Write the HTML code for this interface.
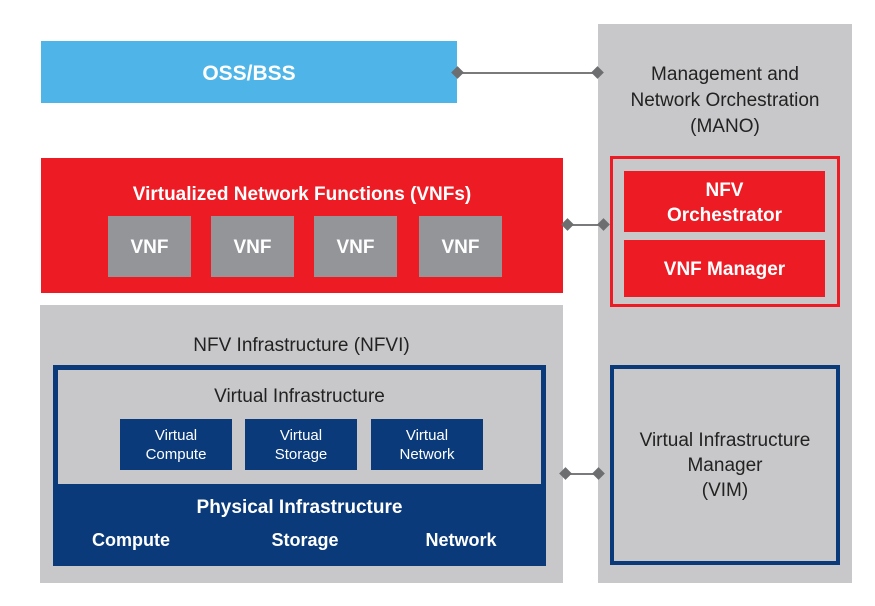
<!DOCTYPE html>
<html><head><meta charset="utf-8"><style>
body{margin:0;width:875px;height:606px;background:#fff;position:relative;overflow:hidden;font-family:"Liberation Sans",Arial,sans-serif}
div{position:absolute;box-sizing:border-box}
.c{display:flex;align-items:center;justify-content:center;text-align:center}
.w{color:#fff;font-weight:bold}
.line{height:2px;background:#7a7a7c}
.d{width:9px;height:9px;background:#6d6e70;transform:rotate(45deg)}
.vnf{background:#939598;top:216px;height:61px;width:83px;font-size:19px;padding-top:3px}
.vb{background:#0a3a7a;top:419px;height:51px;width:112px;color:#fff;font-size:15px;line-height:19px}
</style></head><body>
<div class="c w" style="left:41px;top:41px;width:416px;height:62px;background:#4fb5e8;font-size:21px;padding-top:4px">OSS/BSS</div>
<div style="left:598px;top:24px;width:254px;height:559px;background:#c8c8ca"></div>
<div class="c" style="left:598px;top:61px;width:254px;height:80px;font-size:19px;line-height:26px;color:#222">Management and<br>Network Orchestration<br>(MANO)</div>
<div class="line" style="left:457px;top:72px;width:141px"></div>
<div class="d" style="left:453px;top:68px"></div><div class="d" style="left:593px;top:68px"></div>

<div style="left:41px;top:158px;width:522px;height:135px;background:#ed1c24"></div>
<div class="c w" style="left:41px;top:181px;width:522px;height:28px;font-size:19px">Virtualized Network Functions (VNFs)</div>
<div class="c w vnf" style="left:108px">VNF</div>
<div class="c w vnf" style="left:211px">VNF</div>
<div class="c w vnf" style="left:314px">VNF</div>
<div class="c w vnf" style="left:419px">VNF</div>
<div class="line" style="left:566px;top:224px;width:37px"></div>
<div class="d" style="left:563px;top:220px"></div><div class="d" style="left:599px;top:220px"></div>

<div style="left:610px;top:156px;width:230px;height:151px;border:3px solid #ed1c24;background:#c8c8ca"></div>
<div class="c w" style="left:624px;top:171px;width:201px;height:61px;background:#ed1c24;font-size:19px;line-height:25px;padding-top:2px">NFV<br>Orchestrator</div>
<div class="c w" style="left:624px;top:240px;width:201px;height:57px;background:#ed1c24;font-size:19px;padding-top:3px">VNF Manager</div>

<div style="left:40px;top:305px;width:523px;height:278px;background:#c8c8ca"></div>
<div class="c" style="left:40px;top:331px;width:523px;height:30px;font-size:19px;color:#222">NFV Infrastructure (NFVI)</div>
<div style="left:53px;top:365px;width:493px;height:201px;background:#0a3a7a"></div>
<div style="left:58px;top:370px;width:483px;height:114px;background:#c8c8ca"></div>
<div class="c" style="left:58px;top:383px;width:483px;height:28px;font-size:19px;color:#222">Virtual Infrastructure</div>
<div class="c vb" style="left:120px">Virtual<br>Compute</div>
<div class="c vb" style="left:245px">Virtual<br>Storage</div>
<div class="c vb" style="left:371px">Virtual<br>Network</div>
<div class="c w" style="left:53px;top:494px;width:493px;height:28px;font-size:19px">Physical Infrastructure</div>
<div class="c w" style="left:70px;top:527px;width:122px;height:26px;font-size:18px">Compute</div>
<div class="c w" style="left:244px;top:527px;width:122px;height:26px;font-size:18px">Storage</div>
<div class="c w" style="left:400px;top:527px;width:122px;height:26px;font-size:18px">Network</div>
<div class="line" style="left:565px;top:473px;width:34px"></div>
<div class="d" style="left:561px;top:469px"></div><div class="d" style="left:594px;top:469px"></div>

<div class="c" style="left:610px;top:365px;width:230px;height:200px;border:4px solid #0a3a7a;background:#c8c8ca;font-size:19px;line-height:25px;color:#222">Virtual Infrastructure<br>Manager<br>(VIM)</div>
</body></html>
